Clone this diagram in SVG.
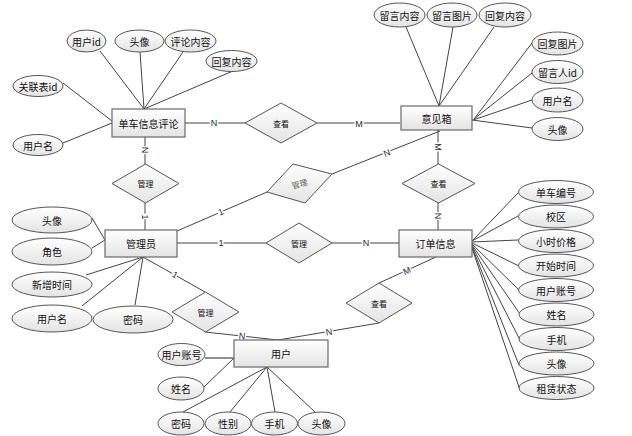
<svg xmlns="http://www.w3.org/2000/svg" width="632" height="436" viewBox="0 0 632 436">
<defs>
<linearGradient id="g" x1="0" y1="0" x2="0" y2="1">
<stop offset="0" stop-color="#ffffff"/>
<stop offset="1" stop-color="#e4e4e4"/>
</linearGradient>
<style>
.e{fill:url(#g);stroke:#555;stroke-width:1}
.r{fill:url(#g);stroke:#6a6a6a;stroke-width:1.2}
.d{fill:url(#g);stroke:#555;stroke-width:1}
.t{font-family:"Noto Sans CJK SC","Noto Sans",sans-serif;font-size:10px;fill:#111;text-anchor:middle;dominant-baseline:central}
.ts{font-family:"Noto Sans CJK SC","Noto Sans",sans-serif;font-size:8px;fill:#111;text-anchor:middle;dominant-baseline:central}
.l{fill:none;stroke:#444;stroke-width:1}
.lb{font-family:"Liberation Sans",Arial,sans-serif;font-size:9px;fill:#1a2650;text-anchor:middle;dominant-baseline:central;stroke:#fff;stroke-width:3;paint-order:stroke}
</style>
</defs>
<rect width="632" height="436" fill="#fff"/>
<g id="connectors">
<!-- relationships -->
<line class="l" x1="185" y1="123" x2="245" y2="123"/>
<line class="l" x1="317" y1="123" x2="400" y2="123"/>
<line class="l" x1="145" y1="137" x2="145" y2="164"/>
<line class="l" x1="145" y1="203" x2="145" y2="230"/>
<line class="l" x1="177" y1="231" x2="267" y2="192"/>
<line class="l" x1="332" y1="174" x2="440" y2="131"/>
<line class="l" x1="438" y1="130" x2="438" y2="164"/>
<line class="l" x1="438" y1="203" x2="438" y2="230"/>
<line class="l" x1="177" y1="243" x2="266" y2="243"/>
<line class="l" x1="332" y1="243" x2="399" y2="243"/>
<line class="l" x1="143" y1="257" x2="205" y2="292"/>
<line class="l" x1="205" y1="332" x2="278" y2="340"/>
<line class="l" x1="379" y1="323" x2="278" y2="340"/>
<line class="l" x1="379" y1="283" x2="436" y2="257"/>
<!-- 单车信息评论 attributes -->
<line class="l" x1="100" y1="51" x2="144" y2="109"/>
<line class="l" x1="140" y1="52" x2="144" y2="109"/>
<line class="l" x1="183" y1="52" x2="144" y2="109"/>
<line class="l" x1="233" y1="71" x2="144" y2="109"/>
<line class="l" x1="63" y1="83" x2="112" y2="121"/>
<line class="l" x1="63" y1="143" x2="112" y2="123"/>
<!-- 意见箱 attributes -->
<line class="l" x1="406" y1="27" x2="439" y2="106"/>
<line class="l" x1="453" y1="27" x2="439" y2="106"/>
<line class="l" x1="494" y1="27" x2="439" y2="106"/>
<line class="l" x1="532" y1="43" x2="474" y2="119"/>
<line class="l" x1="532" y1="73" x2="474" y2="119"/>
<line class="l" x1="532" y1="100" x2="473" y2="120"/>
<line class="l" x1="532" y1="128" x2="472" y2="120"/>
<!-- 管理员 attributes -->
<line class="l" x1="92" y1="218" x2="105" y2="240"/>
<line class="l" x1="92" y1="248" x2="105" y2="240"/>
<line class="l" x1="86" y1="275" x2="143" y2="257"/>
<line class="l" x1="82" y1="306" x2="143" y2="257"/>
<line class="l" x1="135" y1="305" x2="143" y2="257"/>
<!-- 订单信息 attributes -->
<line class="l" x1="472" y1="241" x2="518" y2="193"/>
<line class="l" x1="472" y1="241" x2="518" y2="216"/>
<line class="l" x1="472" y1="242" x2="518" y2="240"/>
<line class="l" x1="472" y1="243" x2="519" y2="266"/>
<line class="l" x1="472" y1="244" x2="519" y2="290"/>
<line class="l" x1="472" y1="245" x2="520" y2="314"/>
<line class="l" x1="472" y1="246" x2="520" y2="340"/>
<line class="l" x1="472" y1="247" x2="519" y2="365"/>
<line class="l" x1="472" y1="248" x2="520" y2="390"/>
<!-- 用户 attributes -->
<line class="l" x1="205" y1="358" x2="234" y2="358" style="stroke:#222"/>
<line class="l" x1="204" y1="387" x2="234" y2="358"/>
<line class="l" x1="267" y1="367" x2="183" y2="412"/>
<line class="l" x1="267" y1="367" x2="230" y2="412"/>
<line class="l" x1="267" y1="367" x2="275" y2="412"/>
<line class="l" x1="267" y1="367" x2="315" y2="412"/>
<!-- labels -->
<text class="lb" x="214" y="123">N</text>
<text class="lb" x="359" y="124">M</text>
<text class="lb" transform="translate(145,150) rotate(90)">N</text>
<text class="lb" transform="translate(145,217) rotate(90)">1</text>
<text class="lb" transform="translate(221,212) rotate(-23)">1</text>
<text class="lb" transform="translate(387,153) rotate(-22)">N</text>
<text class="lb" transform="translate(438,147) rotate(90)">M</text>
<text class="lb" transform="translate(438,216) rotate(90)">N</text>
<text class="lb" x="221" y="243">1</text>
<text class="lb" x="366" y="243">N</text>
<text class="lb" transform="translate(175,275) rotate(30)">1</text>
<text class="lb" transform="translate(242,336) rotate(6)">N</text>
<text class="lb" transform="translate(329,332) rotate(-9)">N</text>
<text class="lb" transform="translate(407,271) rotate(-24)">M</text>
</g>
<!-- entities -->
<g id="e-comment"><rect class="r" x="112" y="109" width="73" height="28"/><text class="t" x="148.5" y="123">单车信息评论</text></g>
<g id="e-feedback"><rect class="r" x="401" y="106" width="71" height="24"/><text class="t" x="436.5" y="118">意见箱</text></g>
<g id="e-admin"><rect class="r" x="105" y="230" width="72" height="27"/><text class="t" x="141" y="243.5">管理员</text></g>
<g id="e-order"><rect class="r" x="399" y="230" width="73" height="27"/><text class="t" x="435.5" y="243.5">订单信息</text></g>
<g id="e-user"><rect class="r" x="234" y="340" width="94" height="27"/><text class="t" x="281" y="353.5">用户</text></g>
<!-- relationships -->
<g id="r-view1"><polygon class="d" points="245,123 281,103 317,123 281,143"/><text class="ts" x="281" y="123">查看</text></g>
<g id="r-manage1"><polygon class="d" points="112,183.5 145.5,164 179,183.5 145.5,203"/><text class="ts" x="145.5" y="183.5">管理</text></g>
<g id="r-manage2"><polygon class="d" points="267,192 293,164 332,174 305,203"/><text class="ts" transform="translate(299.5,183.5) rotate(-16)" style="fill:#666">管理</text></g>
<g id="r-view2"><polygon class="d" points="402,183.5 438.5,164 475,183.5 438.5,203"/><text class="ts" x="438.5" y="183.5">查看</text></g>
<g id="r-manage3"><polygon class="d" points="266,243 299,223 332,243 299,263"/><text class="ts" x="299" y="243">管理</text></g>
<g id="r-manage4"><polygon class="d" points="172,312 205.5,292 239,312 205.5,332"/><text class="ts" x="205.5" y="312">管理</text></g>
<g id="r-view3"><polygon class="d" points="346,303 379,283 412,303 379,323"/><text class="ts" x="379" y="303">查看</text></g>
<!-- attributes of 单车信息评论 -->
<g id="a-c1"><ellipse class="e" cx="86.5" cy="41" rx="19.5" ry="11"/><text class="t" x="86.5" y="41">用户id</text></g>
<g id="a-c2"><ellipse class="e" cx="139.5" cy="41" rx="24.5" ry="11"/><text class="t" x="139.5" y="41">头像</text></g>
<g id="a-c3"><ellipse class="e" cx="190.5" cy="41" rx="25.5" ry="11"/><text class="t" x="190.5" y="41">评论内容</text></g>
<g id="a-c4"><ellipse class="e" cx="231.5" cy="61" rx="25.5" ry="10.5"/><text class="t" x="231.5" y="61">回复内容</text></g>
<g id="a-c5"><ellipse class="e" cx="38" cy="86" rx="25" ry="10.5"/><text class="t" x="38" y="86">关联表id</text></g>
<g id="a-c6"><ellipse class="e" cx="38" cy="145" rx="25" ry="10.5"/><text class="t" x="38" y="145">用户名</text></g>
<!-- attributes of 意见箱 -->
<g id="a-f1"><ellipse class="e" cx="399.5" cy="15" rx="25.5" ry="12"/><text class="t" x="399.5" y="15">留言内容</text></g>
<g id="a-f2"><ellipse class="e" cx="452" cy="15" rx="25" ry="12"/><text class="t" x="452" y="15">留言图片</text></g>
<g id="a-f3"><ellipse class="e" cx="505" cy="15" rx="26" ry="12"/><text class="t" x="505" y="15">回复内容</text></g>
<g id="a-f4"><ellipse class="e" cx="557.5" cy="43.5" rx="25.5" ry="11.5"/><text class="t" x="557.5" y="43.5">回复图片</text></g>
<g id="a-f5"><ellipse class="e" cx="557.5" cy="72" rx="25.5" ry="11.5"/><text class="t" x="557.5" y="72">留言人id</text></g>
<g id="a-f6"><ellipse class="e" cx="557.5" cy="100" rx="25.5" ry="12"/><text class="t" x="557.5" y="100">用户名</text></g>
<g id="a-f7"><ellipse class="e" cx="557.5" cy="129" rx="25.5" ry="11.5"/><text class="t" x="557.5" y="129">头像</text></g>
<!-- attributes of 管理员 -->
<g id="a-a1"><ellipse class="e" cx="52" cy="220" rx="40" ry="13"/><text class="t" x="52" y="220">头像</text></g>
<g id="a-a2"><ellipse class="e" cx="52" cy="251.5" rx="40" ry="13.5"/><text class="t" x="52" y="251.5">角色</text></g>
<g id="a-a3"><ellipse class="e" cx="52" cy="284.5" rx="40" ry="12.5"/><text class="t" x="52" y="284.5">新增时间</text></g>
<g id="a-a4"><ellipse class="e" cx="52" cy="318.5" rx="40" ry="13.5"/><text class="t" x="52" y="318.5">用户名</text></g>
<g id="a-a5"><ellipse class="e" cx="133" cy="319.5" rx="40" ry="13.5"/><text class="t" x="133" y="319.5">密码</text></g>
<!-- attributes of 订单信息 -->
<g id="a-o1"><ellipse class="e" cx="556" cy="192" rx="37.5" ry="11.5"/><text class="t" x="556" y="192">单车编号</text></g>
<g id="a-o2"><ellipse class="e" cx="556" cy="216.5" rx="37.5" ry="11.5"/><text class="t" x="556" y="216.5">校区</text></g>
<g id="a-o3"><ellipse class="e" cx="556" cy="241" rx="37.5" ry="11.5"/><text class="t" x="556" y="241">小时价格</text></g>
<g id="a-o4"><ellipse class="e" cx="556" cy="265.5" rx="37.5" ry="11.5"/><text class="t" x="556" y="265.5">开始时间</text></g>
<g id="a-o5"><ellipse class="e" cx="556" cy="290" rx="37.5" ry="11.5"/><text class="t" x="556" y="290">用户账号</text></g>
<g id="a-o6"><ellipse class="e" cx="556.5" cy="314.5" rx="37.5" ry="11.5"/><text class="t" x="556.5" y="314.5">姓名</text></g>
<g id="a-o7"><ellipse class="e" cx="556.5" cy="339" rx="37.5" ry="11.5"/><text class="t" x="556.5" y="339">手机</text></g>
<g id="a-o8"><ellipse class="e" cx="556.5" cy="363.5" rx="37.5" ry="11.5"/><text class="t" x="556.5" y="363.5">头像</text></g>
<g id="a-o9"><ellipse class="e" cx="556.5" cy="388" rx="37.5" ry="11.5"/><text class="t" x="556.5" y="388">租赁状态</text></g>
<!-- attributes of 用户 -->
<g id="a-u1"><ellipse class="e" cx="181.5" cy="354.5" rx="23.5" ry="11"/><text class="t" x="181.5" y="354.5">用户账号</text></g>
<g id="a-u2"><ellipse class="e" cx="181" cy="388.5" rx="23" ry="11.5"/><text class="t" x="181" y="388.5">姓名</text></g>
<g id="a-u3"><ellipse class="e" cx="181" cy="423.5" rx="23" ry="11.5"/><text class="t" x="181" y="423.5">密码</text></g>
<g id="a-u4"><ellipse class="e" cx="228" cy="423.5" rx="23" ry="11.5"/><text class="t" x="228" y="423.5">性别</text></g>
<g id="a-u5"><ellipse class="e" cx="274.5" cy="423.5" rx="23" ry="11.5"/><text class="t" x="274.5" y="423.5">手机</text></g>
<g id="a-u6"><ellipse class="e" cx="321.5" cy="423.5" rx="23.5" ry="11.5"/><text class="t" x="321.5" y="423.5">头像</text></g>
</svg>
